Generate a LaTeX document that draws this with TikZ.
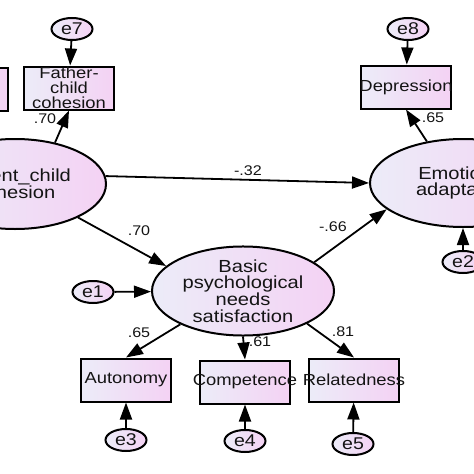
\documentclass[tikz,border=0pt]{standalone}
\usepackage{fontspec}
\setmainfont{Liberation Sans}[FakeStretch=1.15]
\usepackage{xcolor}
\usetikzlibrary{arrows.meta, positioning, shapes.geometric}
\definecolor{shadeL}{RGB}{236,236,248}
\definecolor{shadeR}{RGB}{244,210,244}
\definecolor{inkgray}{RGB}{20,20,20}
\newcommand{\spill}[1]{\makebox[0pt][c]{#1}}

\begin{document}
\begin{tikzpicture}[x=1pt, y=-1pt, >={Triangle[length=17pt,width=12pt]},
  latent/.style={ellipse, draw, line width=2pt, left color=shadeL, right color=shadeR,
    inner sep=0pt, align=center, text=inkgray, font=\fontsize{17.5}{16.7}\selectfont},
  observed/.style={rectangle, draw, line width=2pt, left color=shadeL, right color=shadeR,
    minimum width=90pt, minimum height=43pt, inner sep=0pt, align=center, text=inkgray,
    font=\fontsize{16}{15}\selectfont},
  errterm/.style={ellipse, draw, line width=2pt, left color=shadeL, right color=shadeR,
    minimum width=41pt, minimum height=22pt, inner sep=0pt, text=inkgray,
    font=\fontsize{17}{17}\selectfont},
  link/.style={->, line width=1.8pt},
  coef/.style={text=inkgray, font=\fontsize{14}{14}\selectfont}]
  \useasboundingbox (0,0) rectangle (474,474);
  \clip (0,0) rectangle (474,474);

  % Latent variables
  \node[latent, minimum width=182pt, minimum height=90pt] (parent) at (15,184) {Parent\_child\\cohesion};
  \node[latent, minimum width=186pt, minimum height=88pt] (emo) at (463,183) {Emotional\\adaptation};
  \node[latent, minimum width=182pt, minimum height=88pt] (bpns) at (243,291) {Basic\\psychological\\needs\\satisfaction};

  % Indicators
  \node[observed] (mother) at (-37,89) {};
  \node[observed] (father) at (69,88) {Father-\\child\\cohesion};
  \node[observed] (depress) at (406,87) {\spill{Depression}};
  \node[observed] (auto) at (126,380) {\spill{Autonomy}};
  \node[observed] (compet) at (245,382) {\spill{Competence}};
  \node[observed] (relat) at (354,380) {\spill{Relatedness}};

  % Error terms
  \node[errterm] (e7) at (72,29) {e7};
  \node[errterm] (e8) at (408,29) {e8};
  \node[errterm] (e1) at (93,292) {e1};
  \node[errterm] (e2) at (463,262) {e2};
  \node[errterm] (e3) at (126,440) {e3};
  \node[errterm] (e4) at (245,441) {e4};
  \node[errterm] (e5) at (353,444) {e5};

  % Paths
  \draw[link] (parent.46) -- (father.south);
  \draw[link] (parent.5) -- (emo.west);
  \draw[link] (parent.-28) -- (bpns.162);
  \draw[link] (bpns.22) -- (emo.199);
  \draw[link] (emo.131) -- (depress.south);
  \draw[link] (bpns.208) -- (auto.north);
  \draw[link] (bpns.south) -- (compet.north);
  \draw[link] (bpns.-27) -- (relat.north);

  \draw[link] (e7) -- (father);
  \draw[link] (e8) -- (depress);
  \draw[link] (e1) -- (bpns);
  \draw[link] (e2) -- (emo);
  \draw[link] (e3) -- (auto);
  \draw[link] (e4) -- (compet);
  \draw[link] (e5) -- (relat);

  % Coefficients
  \node[coef] (c1) at (45,119) {.70};
  \node[coef] (c2) at (248,171) {-.32};
  \node[coef] (c3) at (139,231) {.70};
  \node[coef] (c4) at (333,227) {-.66};
  \node[coef] (c5) at (433,118) {.65};
  \node[coef] (c6) at (139,333) {.65};
  \node[coef] (c7) at (260,342) {.61};
  \node[coef] (c8) at (343,332) {.81};
\end{tikzpicture}
\end{document}
